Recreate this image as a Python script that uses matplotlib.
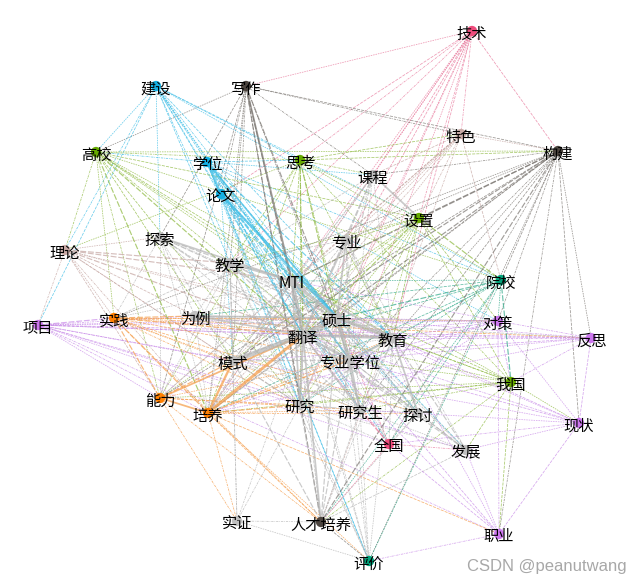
import matplotlib
matplotlib.use("Agg")
import matplotlib.pyplot as plt

plt.rcParams['font.family'] = ['Noto Sans CJK SC', 'DejaVu Sans']

nodes = ["技术", "写作", "建设", "特色", "构建", "高校", "学位", "思考", "课程", "论文",
         "设置", "专业", "探索", "理论", "教学", "MTI", "院校", "项目", "实践", "为例",
         "硕士", "对策", "反思", "翻译", "教育", "模式", "专业学位", "我国", "能力", "培养",
         "研究", "研究生", "探讨", "现状", "全国", "发展", "实证", "人才培养", "职业", "评价"]
node_x = [472, 246, 156, 461, 558, 96, 207, 300, 373, 221,
          419, 346, 160, 65, 230, 292, 501, 38, 114, 195,
          337, 498, 591, 303, 393, 233, 350, 511, 160, 208,
          300, 360, 418, 579, 389, 466, 237, 321, 499, 369]
node_y = [31, 86, 86, 134, 151, 152, 162, 160, 175, 194,
          218, 240, 237, 250, 263, 281, 280, 325, 318, 316,
          318, 321, 338, 335, 338, 361, 360, 382, 398, 413,
          405, 410, 413, 423, 444, 450, 521, 522, 534, 561]
node_group = ["pink", "dark", "cyan", "rosy", "dark", "green", "cyan", "green", "gray", "cyan",
              "green", "gray", "gray", "rosy", "gray", "gray", "teal", "purple", "orange", "gray",
              "gray", "purple", "purple", "gray", "gray", "gray", "gray", "green", "orange", "orange",
              "gray", "gray", "gray", "purple", "pink", "gray", "gray", "dark", "purple", "teal"]
group_colors = {"gray": "#c0c0c0", "dark": "#4b433d", "cyan": "#14b0e4", "green": "#66aa00",
                "rosy": "#c9aaa6", "pink": "#ee4c7c", "teal": "#00a37a", "orange": "#ff8000",
                "purple": "#cc77ee"}
edge_colors = {"gray": "#b4b4b4", "dark": "#7a7570", "cyan": "#3cbde6", "green": "#8cb83c",
               "rosy": "#c4a4a0", "pink": "#e8789c", "teal": "#30a888", "orange": "#f59a45",
               "purple": "#c88ae8"}

adjacency = [
    "技术>写作 构建 特色 课程 专业 设置 MTI 翻译 教学 硕士 教育 研究 培养 论文 思考 专业学位",
    "写作>构建 特色 MTI*3 翻译*2 硕士*2 教学 探索 论文 人才培养*2 专业学位 研究 课程 培养 能力 模式 高校",
    "建设>学位 论文 MTI 翻译 硕士 专业学位 思考 理论 探索 教学 研究 院校 项目 设置 高校 教育",
    "学位>论文*4 硕士*3 翻译*2 专业学位*2 MTI 教育*2 研究生 思考 高校 课程 探讨 院校 对策 评价 研究",
    "论文>硕士*4 专业学位*2 翻译*2 MTI*2 研究生 评价 研究 教育 写作 全国 探讨 模式 发展",
    "高校>思考 构建 学位 设置 翻译*2 MTI 硕士 教育 培养*2 能力 实践 模式 理论 我国 研究 写作 专业学位 院校",
    "思考>构建 课程 设置 翻译*2 MTI 专业学位 研究 教学 硕士*2 我国 院校 培养 能力 理论 特色 教育",
    "特色>构建 课程 设置 翻译 MTI 培养 专业 院校 人才培养 模式 能力",
    "构建>课程 设置*2 专业 翻译*2 MTI*2 硕士 模式*2 培养 教育 院校 对策 反思 现状 职业 评价 人才培养*2 研究生 全国 实践 能力 专业学位",
    "课程>设置*3 专业*2 翻译*2 MTI 硕士*2 教学 专业学位 研究 培养 模式 教育",
    "设置>专业 翻译*2 MTI 硕士 院校*2 专业学位 研究 培养 我国 模式 能力 对策 研究生 教学 教育",
    "专业>翻译*3 硕士*3 专业学位*2 MTI 教育*2 研究 培养 探讨 研究生 教学 发展",
    "探索>MTI*3 翻译*2 硕士*2 教育 专业学位 模式 培养 教学*2 研究生 实践 能力 为例",
    "理论>MTI*2 翻译*2 教学*2 硕士 实践 能力 培养 探索 为例 模式 教育 研究 项目",
    "教学>MTI*4 翻译*2 硕士*2 模式*2 研究 实践 培养 为例 教育 专业学位 能力 评价 实证",
    "MTI>翻译*6 硕士*5 教育*3 专业学位*2 研究*3 研究生*2 培养*2 模式*2 为例 探讨 发展 实践 能力 对策 全国 人才培养 评价",
    "院校>MTI 翻译 硕士*2 教育 专业学位 培养 我国*2 研究 对策 全国 评价 人才培养 为例",
    "项目>实践*2 翻译 硕士 教育 为例 对策 反思 培养 能力 模式 研究 全国 发展 职业 现状",
    "实践>为例*2 翻译*2 硕士 能力*2 培养*2 模式 教育 专业学位 研究 对策 反思 人才培养 研究生 探讨",
    "为例>硕士*3 翻译*3 教育*2 模式 培养 专业学位 研究 研究生 反思 对策",
    "硕士>翻译*6 教育*6 专业学位*5 研究*2 研究生*3 培养*2 模式*2 探讨*2 发展 全国 人才培养*2 评价",
    "对策>翻译 教育 反思 现状 专业学位 培养 研究生 我国 职业 硕士 MTI",
    "反思>翻译 教育 专业学位 现状 我国 培养 模式 硕士",
    "翻译>模式*8 专业学位*4 教育*5 研究*4 研究生*3 探讨*2 发展*2 全国 人才培养*3 评价 实证",
    "培养>翻译*5 模式*4 研究*2 研究生 人才培养 实证 评价 职业 探讨 专业学位*2 教育",
    "能力>培养*3 翻译*3 模式*2 研究 实证 专业学位 研究生 人才培养",
    "教育>专业学位*4 研究*2 研究生*2 模式 探讨*3 发展*2 全国 人才培养 评价",
    "模式>专业学位*2 研究*2 研究生 人才培养*2 实证 探讨",
    "专业学位>研究*2 研究生*3 探讨*2 发展 人才培养*2 评价 全国",
    "我国>研究 培养 现状 发展 研究生 能力 职业 人才培养 专业学位 教育 硕士 翻译 MTI",
    "研究>研究生*2 人才培养*2 实证 发展 评价 全国",
    "研究生>探讨 全国*2 人才培养 评价 发展",
    "探讨>发展*2 全国 人才培养",
    "现状>发展 职业 全国 研究生 教育 翻译 硕士 专业学位",
    "全国>发展 人才培养 研究生 翻译 硕士",
    "发展>人才培养",
    "实证>人才培养 评价",
    "人才培养>评价",
    "职业>评价 发展 全国 翻译 教育 专业学位 培养",
    "评价>院校 构建",
]

idx = {n: i for i, n in enumerate(nodes)}
edge_list = {}
for line in adjacency:
    src, rest = line.split(">")
    for tok in rest.split():
        if "*" in tok:
            tgt, w = tok.split("*")
            w = int(w)
        else:
            tgt, w = tok, 1
        key = frozenset((src, tgt))
        if key in edge_list:
            s0, t0, w0 = edge_list[key]
            if node_group[idx[s0]] == "gray" and node_group[idx[src]] != "gray":
                s0, t0 = src, tgt
            edge_list[key] = (s0, t0, max(w0, w))
        else:
            edge_list[key] = (src, tgt, w)

fig = plt.figure(figsize=(6.42, 5.86), dpi=100)
ax = fig.add_axes([0, 0, 1, 1])
ax.set_xlim(0, 642)
ax.set_ylim(586, 0)
ax.axis("off")

thin_styles = [(0, (2.0, 1.2)), (0, (4, 1.5)), (0, (3, 1.2, 1, 1.2))]
items = sorted(edge_list.values(), key=lambda e: e[2])
for k, (src, tgt, w) in enumerate(items):
    i, j = idx[src], idx[tgt]
    col = edge_colors[node_group[i]]
    if w == 1:
        ls, lw, al = thin_styles[k % 3], 0.55, 0.75
    elif w == 2:
        ls, lw, al = (0, (5, 1.5)), 0.85, 0.7
    else:
        ls, lw, al = "-", 0.42 * w, 0.7
    ax.plot([node_x[i], node_x[j]], [node_y[i], node_y[j]], color=col, lw=lw,
            ls=ls, alpha=al, zorder=1, solid_capstyle="butt")

ax.scatter(node_x, node_y, s=55, c=[group_colors[g] for g in node_group],
           edgecolors="none", zorder=3)
for n, x, y in zip(nodes, node_x, node_y):
    ax.text(x, y + 3, n, ha="center", va="center", fontsize=11, color="black", zorder=4)

ax.text(627, 567, "CSDN @peanutwang", ha="right", va="center", color="#a8a8a8",
        fontsize=12, family=["Liberation Sans", "DejaVu Sans"], zorder=5)

fig.savefig("out.png", dpi=100)
